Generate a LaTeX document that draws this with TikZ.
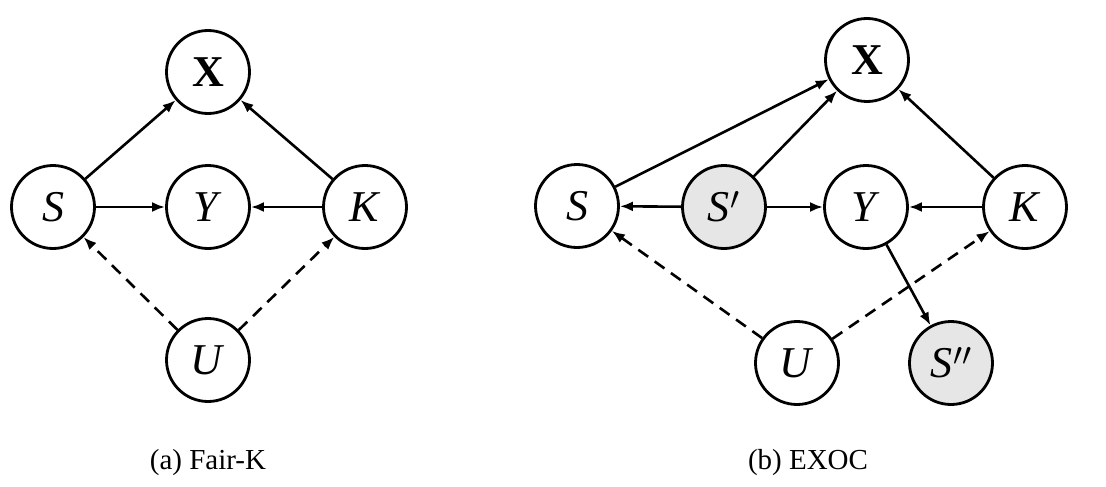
\documentclass[tikz,border=0pt]{standalone}
\usepackage{fontspec}
\setmainfont{Liberation Serif}
\usetikzlibrary{arrows.meta}
\definecolor{obsgray}{HTML}{E6E6E6}
\newcommand{\myprime}{\scalebox{1.3}{$^{\prime}$}}
\newcommand{\mydprime}{\scalebox{1.3}{$^{\prime\prime}$}}
\begin{document}
\begin{tikzpicture}[x=1pt,y=-1pt,
  var/.style={circle,draw,line width=2.8pt,minimum size=83pt,inner sep=0pt,font=\fontsize{44}{46}\selectfont},
  obs/.style={var,fill=obsgray},
  edge/.style={line width=2.6pt,-{Latex[length=13pt,width=10pt]}},
  dedge/.style={edge,dash pattern=on 12pt off 8pt},
  captiontext/.style={font=\fontsize{29}{32}\selectfont}]
\useasboundingbox (0,0) rectangle (1106,487);
% (a)
\node[var] (aX) at (208,72) {\textbf{X}};
\node[var] (aS) at (53,207) {\textit{S}};
\node[var] (aY) at (208,207) {\textit{Y}};
\node[var] (aK) at (365,207) {\textit{K}};
\node[var] (aU) at (208,360) {\textit{U}};
\draw[edge] (aS) -- (aX);
\draw[edge] (aK) -- (aX);
\draw[edge] (aS) -- (aY);
\draw[edge] (aK) -- (aY);
\draw[dedge] (aU) -- (aS);
\draw[dedge] (aU) -- (aK);
\node[captiontext] (capa) at (208,463) {(a) Fair-K};
% (b)
\node[var] (bX) at (867,60) {\textbf{X}};
\node[var] (bS) at (577,206) {\textit{S}};
\node[obs] (bSp) at (724,207) {\textit{S}\kern1pt\myprime};
\node[var] (bY) at (866,207) {\textit{Y}};
\node[var] (bK) at (1025,207) {\textit{K}};
\node[var] (bU) at (797,363) {\textit{U}};
\node[obs] (bSpp) at (951,363) {\textit{S}\kern1pt\mydprime};
\draw[edge] (bS) -- (bX);
\draw[edge] (bSp) -- (bX);
\draw[edge] (bK) -- (bX);
\draw[edge] (bSp) -- (bS);
\draw[edge] (bSp) -- (bY);
\draw[edge] (bK) -- (bY);
\draw[edge] (bY) -- (bSpp);
\draw[dedge] (bU) -- (bS);
\draw[dedge] (bU) -- (bK);
\node[captiontext] (capb) at (808,463) {(b) EXOC};
\end{tikzpicture}
\end{document}
